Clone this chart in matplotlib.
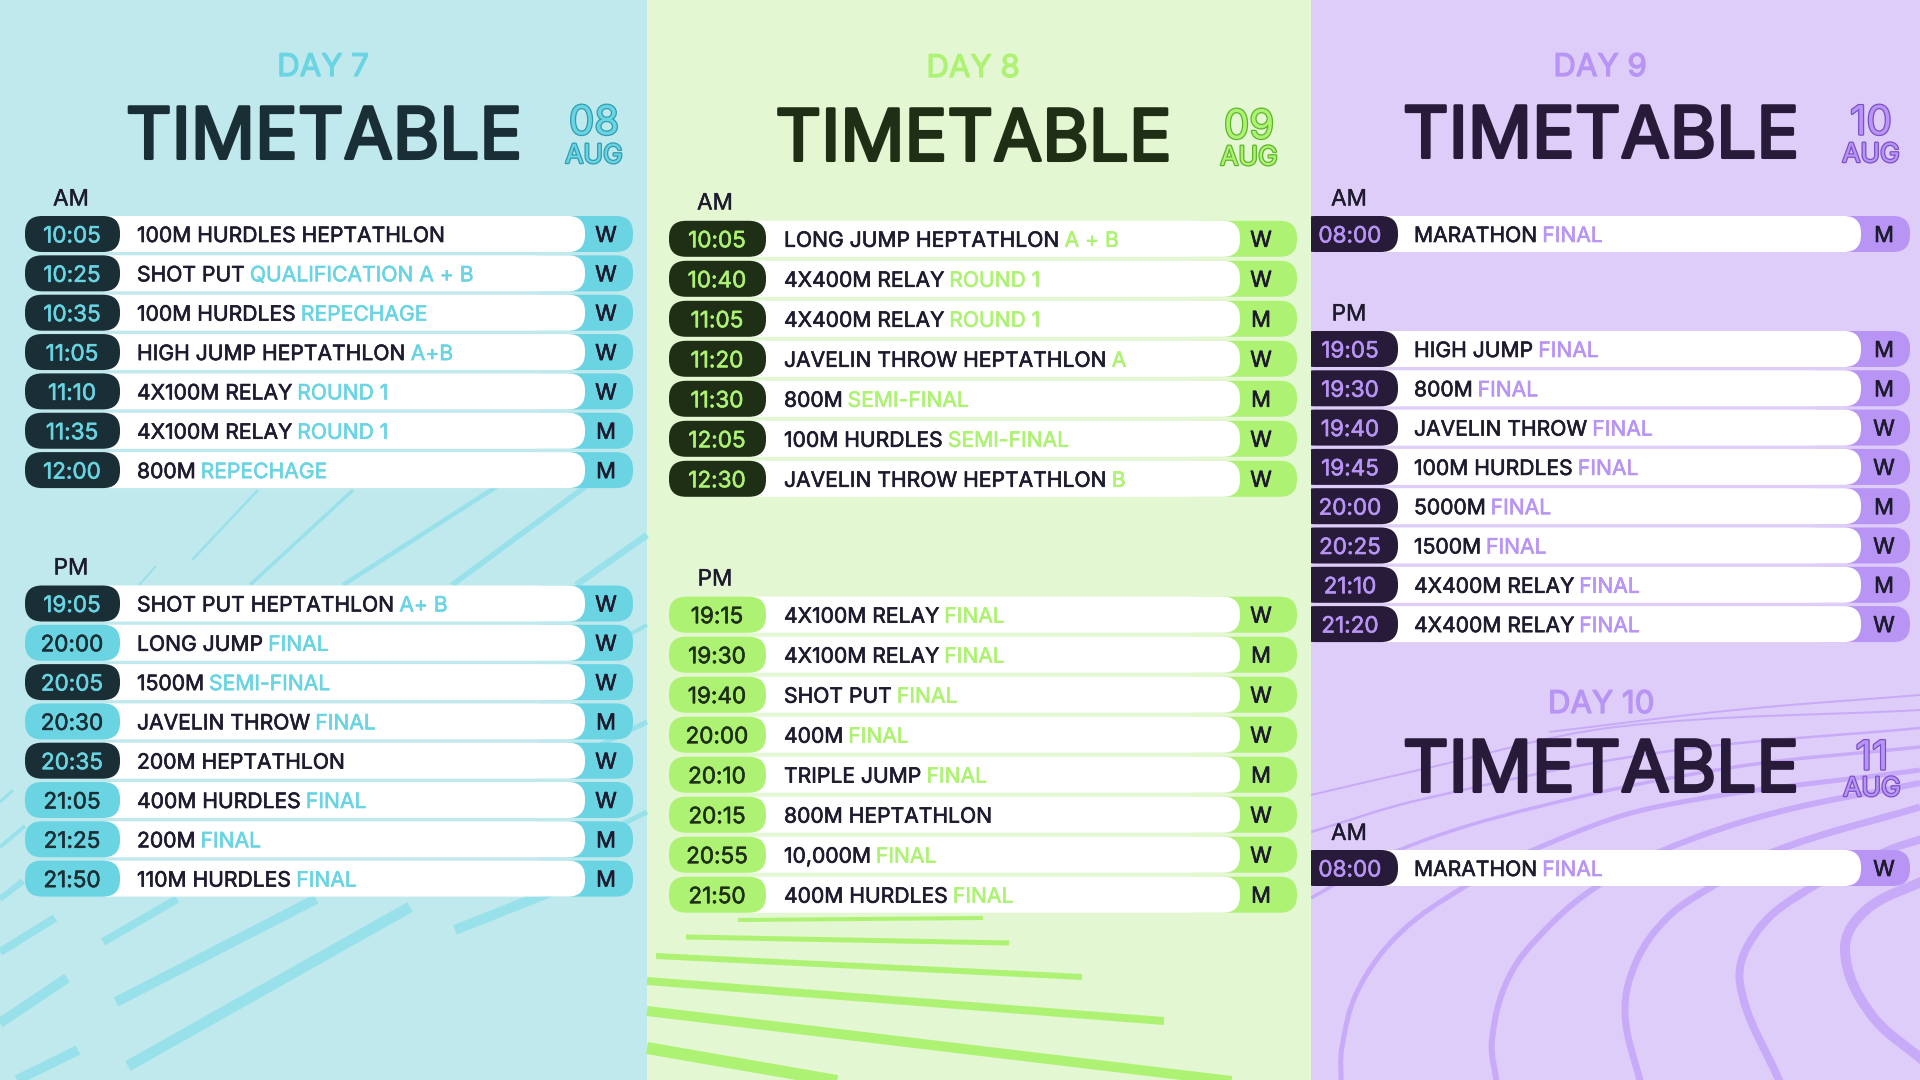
import math
import matplotlib
matplotlib.use("Agg")
import matplotlib.pyplot as plt
from matplotlib.patches import FancyBboxPatch, Rectangle, PathPatch
from matplotlib.path import Path
import matplotlib.patheffects as pe

# ---------- data ----------
d7_am_times = ["10:05", "10:25", "10:35", "11:05", "11:10", "11:35", "12:00"]
d7_am_events = ["100M HURDLES HEPTATHLON", "SHOT PUT", "100M HURDLES", "HIGH JUMP HEPTATHLON",
                "4X100M RELAY", "4X100M RELAY", "800M"]
d7_am_stages = ["", "QUALIFICATION A + B", "REPECHAGE", "A+B", "ROUND 1", "ROUND 1", "REPECHAGE"]
d7_am_genders = ["W", "W", "W", "W", "W", "M", "M"]
d7_am_dark = [1, 1, 1, 1, 1, 1, 1]

d7_pm_times = ["19:05", "20:00", "20:05", "20:30", "20:35", "21:05", "21:25", "21:50"]
d7_pm_events = ["SHOT PUT HEPTATHLON", "LONG JUMP", "1500M", "JAVELIN THROW", "200M HEPTATHLON",
                "400M HURDLES", "200M", "110M HURDLES"]
d7_pm_stages = ["A+ B", "FINAL", "SEMI-FINAL", "FINAL", "", "FINAL", "FINAL", "FINAL"]
d7_pm_genders = ["W", "W", "W", "M", "W", "W", "M", "M"]
d7_pm_dark = [1, 0, 1, 0, 1, 0, 0, 0]

d8_am_times = ["10:05", "10:40", "11:05", "11:20", "11:30", "12:05", "12:30"]
d8_am_events = ["LONG JUMP HEPTATHLON", "4X400M RELAY", "4X400M RELAY", "JAVELIN THROW HEPTATHLON",
                "800M", "100M HURDLES", "JAVELIN THROW HEPTATHLON"]
d8_am_stages = ["A + B", "ROUND 1", "ROUND 1", "A", "SEMI-FINAL", "SEMI-FINAL", "B"]
d8_am_genders = ["W", "W", "M", "W", "M", "W", "W"]
d8_am_dark = [1, 1, 1, 1, 1, 1, 1]

d8_pm_times = ["19:15", "19:30", "19:40", "20:00", "20:10", "20:15", "20:55", "21:50"]
d8_pm_events = ["4X100M RELAY", "4X100M RELAY", "SHOT PUT", "400M", "TRIPLE JUMP",
                "800M HEPTATHLON", "10,000M", "400M HURDLES"]
d8_pm_stages = ["FINAL", "FINAL", "FINAL", "FINAL", "FINAL", "", "FINAL", "FINAL"]
d8_pm_genders = ["W", "M", "W", "W", "M", "W", "W", "M"]
d8_pm_dark = [0, 0, 0, 0, 0, 0, 0, 0]

d9_am_times = ["08:00"]
d9_am_events = ["MARATHON"]
d9_am_stages = ["FINAL"]
d9_am_genders = ["M"]
d9_am_dark = [1]

d9_pm_times = ["19:05", "19:30", "19:40", "19:45", "20:00", "20:25", "21:10", "21:20"]
d9_pm_events = ["HIGH JUMP", "800M", "JAVELIN THROW", "100M HURDLES", "5000M", "1500M",
                "4X400M RELAY", "4X400M RELAY"]
d9_pm_stages = ["FINAL"] * 8
d9_pm_genders = ["M", "M", "W", "W", "M", "W", "M", "W"]
d9_pm_dark = [1] * 8

d10_am_times = ["08:00"]
d10_am_events = ["MARATHON"]
d10_am_stages = ["FINAL"]
d10_am_genders = ["W"]
d10_am_dark = [1]

# ---------- style ----------
FONT = "Inter"
INK = "#1E1B2E"
TEAL = dict(bg="#C0E9EE", acc="#6AD4E3", dark="#1A2F35", stripe="#98E1EA", edge="#2F9DB0")
GREEN = dict(bg="#E3F7D3", acc="#AEF273", dark="#1F2F16", stripe="#AEF273", edge="#5DB52A")
PURPLE = dict(bg="#DFCDF9", acc="#B894F5", dark="#281B3A", stripe="#C8ABF8", edge="#7B50C8")

ROW_H = 36
FS_ROW = 15.2


def heavier(color, lw):
    return [pe.withStroke(linewidth=lw, foreground=color)]


fig = plt.figure(figsize=(19.2, 10.8), dpi=100)
ax = fig.add_axes([0, 0, 1, 1])
ax.set_xlim(0, 1920)
ax.set_ylim(1080, 0)
ax.axis("off")

panel1 = Rectangle((0, 0), 647, 1080, fc=TEAL["bg"], ec="none", zorder=0)
panel2 = Rectangle((647, 0), 664, 1080, fc=GREEN["bg"], ec="none", zorder=0)
panel3 = Rectangle((1311, 0), 609, 1080, fc=PURPLE["bg"], ec="none", zorder=0)
for p in (panel1, panel2, panel3):
    ax.add_patch(p)

# ---------- background decoration ----------
teal_stripes = [
    ((192, 560), (258, 490), 2.5), ((139, 585), (156, 566), 2), ((250, 585), (353, 490), 3.5),
    ((343, 585), (496, 487), 4.5), ((452, 585), (585, 487), 5.5), ((576, 585), (647, 535), 6.5),
    ((0, 952), (55, 918), 8), ((103, 942), (177, 899), 8), ((116, 1002), (316, 899), 10),
    ((128, 1066), (410, 907), 11), ((455, 930), (568, 885), 10), ((0, 1023), (67, 978), 10),
    ((17, 1080), (78, 1050), 10), ((0, 802), (13, 790), 3), ((0, 847), (25, 826), 4),
    ((0, 899), (23, 881), 6), ((600, 745), (647, 722), 5), ((600, 835), (647, 812), 5),
    ((610, 645), (647, 625), 4),
]
for a, b, w in teal_stripes:
    ax.plot([a[0], b[0]], [a[1], b[1]], color=TEAL["stripe"], lw=w * 0.72, solid_capstyle="butt", zorder=1)

green_stripes = [
    ((738, 920), (983, 918), 4), ((686, 937), (1009, 943), 5), ((656, 956), (1082, 977), 6),
    ((647, 981), (1164, 1021), 8), ((647, 1011), (1240, 1082), 10), ((647, 1048), (860, 1085), 12),
]
for a, b, w in green_stripes:
    ax.plot([a[0], b[0]], [a[1], b[1]], color=GREEN["stripe"], lw=w * 0.72, solid_capstyle="butt", zorder=1)

purple_lanes = [
    ([(1549, 732), (1735, 710), (1920, 695)], 2),
    ([(1311, 795), (1419, 770), (1616, 727), (1920, 710)], 2),
    ([(1311, 832), (1419, 800), (1656, 753), (1920, 728)], 2.5),
    ([(1311, 898), (1399, 850), (1537, 807), (1735, 767), (1920, 747)], 3.5),
    ([(1341, 1085), (1342, 1047), (1358, 990), (1400, 933), (1464, 887), (1533, 850), (1656, 807),
      (1920, 770)], 5),
    ([(1497, 1085), (1492, 1040), (1509, 977), (1548, 927), (1596, 887), (1664, 850), (1774, 813),
      (1920, 783)], 6),
    ([(1641, 1085), (1625, 1013), (1637, 960), (1668, 917), (1711, 887), (1778, 850), (1920, 807)], 7),
    ([(1781, 1085), (1740, 983), (1758, 930), (1812, 887), (1889, 850), (1925, 838)], 8),
    ([(1925, 1062), (1870, 1013), (1845, 950), (1866, 910), (1925, 880)], 10),
]


def smooth_path(pts):
    n = len(pts)
    tangents = []
    for i in range(n):
        a, b = pts[max(i - 1, 0)], pts[min(i + 1, n - 1)]
        dx, dy = b[0] - a[0], b[1] - a[1]
        d = math.hypot(dx, dy)
        tangents.append((dx / d, dy / d))
    verts = [pts[0]]
    codes = [Path.MOVETO]
    for i in range(n - 1):
        p1, p2 = pts[i], pts[i + 1]
        s = math.hypot(p2[0] - p1[0], p2[1] - p1[1]) * 0.36
        verts += [(p1[0] + tangents[i][0] * s, p1[1] + tangents[i][1] * s),
                  (p2[0] - tangents[i + 1][0] * s, p2[1] - tangents[i + 1][1] * s), p2]
        codes += [Path.CURVE4] * 3
    return Path(verts, codes)


for pts, w in purple_lanes:
    patch = PathPatch(smooth_path(pts), fc="none", ec=PURPLE["stripe"], lw=w * 0.72, zorder=1)
    ax.add_patch(patch)
    patch.set_clip_path(panel3)

fig.canvas.draw()
renderer = fig.canvas.get_renderer()


def pill(x0, x1, yc, color, z, r=17, clip=None):
    p = FancyBboxPatch((x0, yc - ROW_H / 2), x1 - x0, ROW_H,
                       boxstyle=f"round,pad=0,rounding_size={r}", fc=color, ec="none", zorder=z)
    ax.add_patch(p)
    if clip is not None:
        p.set_clip_path(clip)


def draw_rows(times, events, stages, genders, darks, y0, pitch, theme, geo):
    for i, t in enumerate(times):
        y = y0 + i * pitch
        pill(geo["white_end"] - 60, geo["tab_end"], y, theme["acc"], 3)
        pill(geo["time_end"] - 30, geo["white_end"], y, "white", 4)
        dark = darks[i]
        pill(geo["time_start"], geo["time_end"], y, theme["dark"] if dark else theme["acc"], 5,
             clip=geo.get("clip"))
        tc = theme["acc"] if dark else theme["dark"]
        ax.text(geo["time_c"], y, t, ha="center", va="center_baseline", family=FONT,
                fontsize=16.2, color=tc, zorder=6, path_effects=heavier(tc, 0.4))
        a = ax.text(geo["text_x"], y, events[i], ha="left", va="center_baseline", family=FONT,
                    fontsize=FS_ROW, color=INK, zorder=6, path_effects=heavier(INK, 0.45))
        if stages[i]:
            right = a.get_window_extent(renderer).x1
            ax.text(right + 5, y, stages[i], ha="left", va="center_baseline", family=FONT,
                    fontsize=FS_ROW, color=theme["acc"], zorder=6, path_effects=heavier(theme["acc"], 0.45))
        ax.text(geo["g_c"], y, genders[i], ha="center", va="center_baseline", family=FONT,
                fontsize=15.8, color=INK, zorder=6, path_effects=heavier(INK, 0.45))


def header(day, day_x, day_y, title_x, title_y, num, date_x, num_y, aug_y, theme):
    ax.text(day_x, day_y, day, ha="center", va="center_baseline", family=FONT, fontsize=22.5,
            color=theme["acc"], zorder=6, path_effects=heavier(theme["acc"], 0.9))
    ax.text(title_x, title_y, "TIMETABLE", ha="center", va="center_baseline", family=FONT, fontsize=51.2,
            color=theme["dark"], zorder=6, path_effects=heavier(theme["dark"], 2.2))
    stroke = [pe.withStroke(linewidth=1.8, foreground=theme["edge"])]
    ax.text(date_x, num_y, num, ha="center", va="center_baseline", family=FONT, fontsize=29,
            color=theme["acc"], zorder=6, path_effects=stroke)
    ax.text(date_x, aug_y + 1, "AUG", ha="center", va="center_baseline", family=FONT, fontsize=19,
            color=theme["acc"], zorder=6, path_effects=stroke)


def label(s, x, y):
    ax.text(x, y, s, ha="center", va="center_baseline", family=FONT, fontsize=16.2, color=INK, zorder=6,
            path_effects=heavier(INK, 0.3))


geo1 = dict(time_start=25, time_end=120, white_end=585, tab_end=633, time_c=72, text_x=137, g_c=606)
geo2 = dict(time_start=669, time_end=766, white_end=1240, tab_end=1297, time_c=717, text_x=784, g_c=1261)
geo3 = dict(time_start=1298, time_end=1398, white_end=1861, tab_end=1910, time_c=1350, text_x=1414, g_c=1884,
            clip=panel3)

header("DAY 7", 323, 65, 324, 133, "08", 594, 120, 152, TEAL)
label("AM", 71, 197)
draw_rows(d7_am_times, d7_am_events, d7_am_stages, d7_am_genders, d7_am_dark, 234, 39.35, TEAL, geo1)
label("PM", 71, 566)
draw_rows(d7_pm_times, d7_pm_events, d7_pm_stages, d7_pm_genders, d7_pm_dark, 603.5, 39.3, TEAL, geo1)

header("DAY 8", 973, 66, 973.5, 135, "09", 1249, 124, 154, GREEN)
label("AM", 715, 201)
draw_rows(d8_am_times, d8_am_events, d8_am_stages, d8_am_genders, d8_am_dark, 238.8, 40, GREEN, geo2)
label("PM", 715, 577)
draw_rows(d8_pm_times, d8_pm_events, d8_pm_stages, d8_pm_genders, d8_pm_dark, 614.7, 40, GREEN, geo2)

header("DAY 9", 1600, 65, 1601, 132, "10", 1871, 120, 151, PURPLE)
label("AM", 1349, 197)
draw_rows(d9_am_times, d9_am_events, d9_am_stages, d9_am_genders, d9_am_dark, 234, 39.3, PURPLE, geo3)
label("PM", 1349, 312)
draw_rows(d9_pm_times, d9_pm_events, d9_pm_stages, d9_pm_genders, d9_pm_dark, 349, 39.3, PURPLE, geo3)

header("DAY 10", 1601, 702, 1601, 766, "11", 1872, 755, 785, PURPLE)
label("AM", 1349, 831.5)
draw_rows(d10_am_times, d10_am_events, d10_am_stages, d10_am_genders, d10_am_dark, 868, 39.3, PURPLE, geo3)

fig.savefig("out.png", dpi=100)
